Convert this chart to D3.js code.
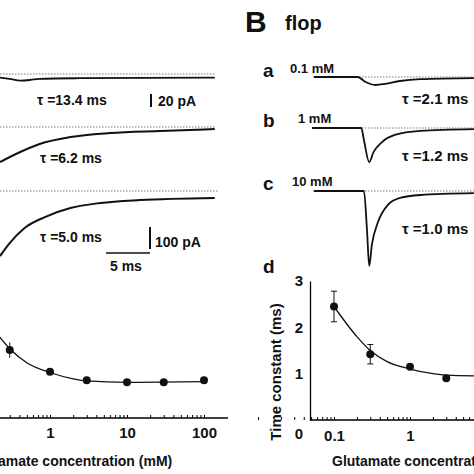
<!DOCTYPE html><html><head><meta charset="utf-8">
<script src="https://cdn.jsdelivr.net/npm/d3@7"></script>
<style>body{margin:0;background:#fff}text{font-family:"Liberation Sans",Arial,sans-serif;font-weight:bold;fill:#111}</style>
</head><body><svg id="c" width="474" height="474"></svg>
<script>
// Panel A traces: [time ms, current pA]
const traceA1=[[0,-6],[1.1,-8],[2.3,-11],[3.4,-10],[4.5,-8],[9.1,-7],[24.4,-6]];
const traceA2=[[0,-167],[2.3,-119],[4.5,-81],[8,-48],[12.5,-29],[18.2,-19],[24.4,-10]];
const traceA3=[[0,-310],[1.1,-248],[2.8,-176],[5.1,-124],[8,-81],[11.4,-57],[15.9,-43],[24.4,-33]];
const tauA=["τ =13.4 ms","τ =6.2 ms","τ =5.0 ms"];
// Panel A dose plot
const concA=[0.3,1,3,10,30,100];
const tauValsA=[9.7,6.6,5.4,5.1,5.1,5.4];
const fitA=[[0.22,11.6],[0.3,9.9],[0.5,7.9],[1,6.5],[2,5.6],[3,5.3],[10,5.1],[100,5.2]];
// Panel B traces
const traceBa=[[0.2,0],[5.2,0],[6.1,-24],[7.2,-38],[8.3,-33],[10,-19],[12.3,-10],[18.4,-5]];
const traceBb=[[0,0],[5.6,0],[5.9,-57],[6.5,-162],[7,-114],[7.95,-67],[9.4,-33],[12.3,-14],[18.4,-5]];
const traceBc=[[0.2,0],[5.9,0],[6.25,-186],[6.5,-357],[6.8,-257],[7.5,-148],[8.6,-67],[10,-33],[12.3,-19],[18.4,-10]];
const letters=["a","b","c"], concLabels=["0.1 mM","1 mM","10 mM"], tauB=["τ =2.1 ms","τ =1.2 ms","τ =1.0 ms"];
// Panel B dose plot
const concB=[0.1,0.3,1,3,10];
const tauValsB=[2.45,1.42,1.15,0.9,0.92];
const errB=[0.33,0.21,0,0,0];
const fitB=[[0.1,2.45],[0.2,1.8],[0.3,1.5],[0.5,1.26],[1,1.1],[2,1.0],[3,0.97],[10,0.95]];
const yTicksB=[0,1,2,3];

const svg=d3.select("#c");
function trace(data,x0,y0,k,w){
  const x=d3.scaleLinear().domain([0,1]).range([x0,x0+8.8]);
  const y=d3.scaleLinear().domain([0,-1]).range([y0,y0+k]);
  svg.append("path").attr("d",d3.line().x(d=>x(d[0])).y(d=>y(d[1])).curve(d3.curveMonotoneX)(data))
   .attr("fill","none").attr("stroke","#111").attr("stroke-width",w||2);
}
function dotted(x1,x2,y){svg.append("line").attr("x1",x1).attr("x2",x2).attr("y1",y).attr("y2",y).attr("stroke","#555").attr("stroke-width",0.8).attr("stroke-dasharray","1.5,1.5");}
function txt(s,x,y,sz,anchor){return svg.append("text").attr("x",x).attr("y",y).attr("font-size",sz).attr("text-anchor",anchor||"start").text(s);}

// Panel A
dotted(0,215,74);dotted(0,215,127);dotted(0,218,191);
trace(traceA1,0,74,0.6,1.8);trace(traceA2,0,127,0.21);trace(traceA3,0,191,0.21);
txt(tauA[0],37,105,14);txt(tauA[1],40,163,14);txt(tauA[2],40,242,14);
svg.append("line").attr("x1",151).attr("x2",151).attr("y1",94).attr("y2",107).attr("stroke","#111").attr("stroke-width",2);
txt("20 pA",158,106,14);
svg.append("line").attr("x1",150).attr("x2",150).attr("y1",227).attr("y2",249).attr("stroke","#111").attr("stroke-width",2);
txt("100 pA",155,247,14);
svg.append("line").attr("x1",106).attr("x2",150).attr("y1",253).attr("y2",253).attr("stroke","#111").attr("stroke-width",1.5);
txt("5 ms",110,271,14);

const xA=d3.scaleLog().domain([1,10]).range([50,127]);
const yA=d3.scaleLinear().domain([0,1]).range([418,411]);
svg.append("g").attr("transform","translate(0,418)").call(d3.axisBottom(xA).tickValues(d3.range(1,10).map(i=>i*0.1).concat(d3.range(1,10),d3.range(10,100,10),[100])).tickSize(3).tickFormat(d=>[1,10,100].includes(d)?d:""))
 .call(g=>{g.select(".domain").attr("d","M0,0H228").attr("stroke-width",1.5);g.selectAll("text").attr("font-size",15).attr("dy","0.9em");g.selectAll(".tick line").attr("y2",-3);});
svg.append("path").attr("d",d3.line().x(d=>xA(d[0])).y(d=>yA(d[1])).curve(d3.curveMonotoneX)(fitA)).attr("fill","none").attr("stroke","#111").attr("stroke-width",1.3);
svg.append("line").attr("x1",xA(0.3)).attr("x2",xA(0.3)).attr("y1",yA(8.6)).attr("y2",yA(10.8)).attr("stroke","#111");
svg.selectAll(".pa").data(concA).enter().append("circle").attr("cx",d=>xA(d)).attr("cy",(d,i)=>yA(tauValsA[i])).attr("r",4).attr("fill","#111");
txt("amate concentration (mM)",-2,466,14);

// Panel B
txt("B",245,32,30);txt("flop",285,30,20);
const baseB=[77,128,191], lY=[77,127,190], cx=[290,298,292], tauY=[104,161,234];
[traceBa,traceBb,traceBc].forEach((t,i)=>{
  dotted(314,474,baseB[i]);
  trace(t,312,baseB[i],0.21,1.8);
  txt(letters[i],263,lY[i],19);
  txt(concLabels[i],cx[i],lY[i]-4,13);
  txt(tauB[i],402,tauY[i],15);
});
txt("d",263,273,19);
const xB=d3.scaleLog().domain([0.1,1]).range([334,410]);
const yB=d3.scaleLinear().domain([0,3]).range([420,281]);
svg.append("g").attr("transform","translate(310,0)").call(d3.axisLeft(yB).tickValues(yTicksB.slice(1)).tickSize(0).tickPadding(7).tickFormat(d3.format("d")))
 .call(g=>{g.select(".domain").attr("stroke-width",1.3);g.selectAll("text").attr("font-size",15);});
txt(String(yTicksB[0]),303,yB(0)+19,15,"end");
svg.append("g").attr("transform","translate(0,420)").call(d3.axisBottom(xB).tickValues(d3.range(1,10).map(i=>i*0.01).concat(d3.range(1,10).map(i=>i*0.1),d3.range(1,10))).tickSize(3).tickFormat(d=>d===0.1?"0.1":d===1?"1":""))
 .call(g=>{g.select(".domain").attr("d","M310,0H474").attr("stroke-width",1.3);g.selectAll("text").attr("font-size",15).attr("dy","1em");g.selectAll(".tick line").attr("y2",-3);});
svg.append("path").attr("d",d3.line().x(d=>xB(d[0])).y(d=>yB(d[1])).curve(d3.curveMonotoneX)(fitB)).attr("fill","none").attr("stroke","#111").attr("stroke-width",1.3);
concB.forEach((c,i)=>{if(errB[i]>0){svg.append("path").attr("d",`M${xB(c)-3},${yB(tauValsB[i]+errB[i])}h6M${xB(c)},${yB(tauValsB[i]+errB[i])}V${yB(tauValsB[i]-errB[i])}M${xB(c)-3},${yB(tauValsB[i]-errB[i])}h6`).attr("stroke","#111").attr("fill","none");}});
svg.selectAll(".pb").data(concB).enter().append("circle").attr("cx",d=>xB(d)).attr("cy",(d,i)=>yB(tauValsB[i])).attr("r",4).attr("fill","#111");
txt("Glutamate concentration (mM)",332,466,14);
txt("Time constant (ms)",0,0,15,"middle").attr("transform","translate(281,372) rotate(-90)");
</script></body></html>
